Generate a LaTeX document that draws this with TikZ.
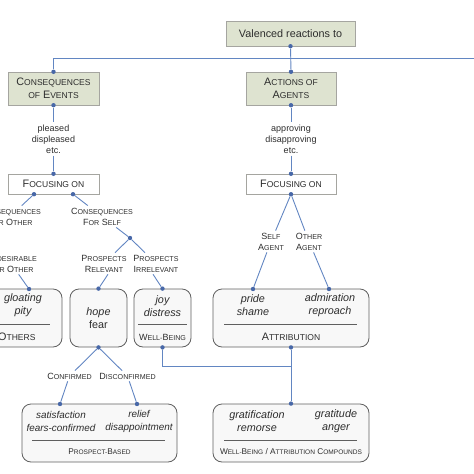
\documentclass[tikz,border=0pt]{standalone}
\usepackage{fontspec}
\setmainfont{Liberation Sans}
\usetikzlibrary{positioning}
\definecolor{headfill}{RGB}{222,227,208}
\definecolor{headline}{RGB}{165,165,160}
\definecolor{linkblue}{RGB}{98,134,194}
\definecolor{dotblue}{RGB}{72,104,168}
\definecolor{boxline}{RGB}{95,95,95}
\definecolor{boxfill}{RGB}{248,248,248}
\definecolor{inkgray}{RGB}{45,45,45}

% fake small caps: first letter full size, rest smaller
\newlength\fscdim
\makeatletter
\newcommand{\fsc}[2]{#1{\fscdim=\f@size pt\fscdim=0.79\fscdim\fontsize{\fscdim}{\fscdim}\selectfont #2}}
\makeatother

\tikzset{
  headbox/.style={draw=headline, fill=headfill, text=inkgray, minimum width=91pt, minimum height=33pt, align=center, inner sep=2pt, font=\fontsize{10.8}{12.5}\selectfont},
  focusbox/.style={draw=headline, fill=white, text=inkgray, minimum width=91pt, minimum height=20pt, inner sep=2pt, font=\fontsize{10.8}{12.5}\selectfont},
  groupbox/.style={draw=boxline, fill=boxfill, rounded corners=9pt, line width=0.8pt, minimum height=58pt, inner sep=0pt},
  emo/.style={text=inkgray, align=center, inner sep=0pt, font=\fontsize{10.8}{13}\selectfont\itshape},
  cat/.style={text=inkgray, inner sep=0pt, font=\fontsize{10.8}{12}\selectfont},
  lbl/.style={text=inkgray, align=center, inner sep=2pt, font=\fontsize{9}{11}\selectfont},
  link/.style={draw=linkblue, line width=0.9pt},
  sep/.style={draw=boxline, line width=0.8pt},
  dot/.style={circle, fill=dotblue, inner sep=0pt, minimum size=4.4pt}
}

\begin{document}
\begin{tikzpicture}[x=1pt, y=-1pt]
  \useasboundingbox (0,0) rectangle (474,474);
  \clip (0,0) rectangle (474,474);

  % Top level
  \node[headbox, minimum width=129pt, minimum height=25pt] (valenced) at (290.5,33.5) {Valenced reactions to};
  \node[headbox] (events) at (53.5,88.5) {\fsc{C}{ONSEQUENCES}\\\fsc{}{OF} \fsc{E}{VENTS}};
  \node[headbox, minimum width=90pt] (agents) at (291,88.5) {\fsc{A}{CTIONS OF}\\\fsc{A}{GENTS}};
  \coordinate (branchend) at (480,58);

  % Focusing boxes
  \node[focusbox] (focusL) at (53.5,184) {\fsc{F}{OCUSING ON}};
  \node[focusbox, minimum width=90pt] (focusR) at (291,184) {\fsc{F}{OCUSING ON}};
  \node[lbl] (pleased) at (53.5,139) {pleased\\displeased\\etc.};
  \node[lbl] (approving) at (291,139) {approving\\disapproving\\etc.};

  % Branch labels
  \node[lbl] (forother) at (10,216.5) {\fsc{C}{ONSEQUENCES}\\\fsc{F}{OR} \fsc{O}{THER}};
  \node[lbl] (forself) at (102,216.5) {\fsc{C}{ONSEQUENCES}\\\fsc{F}{OR} \fsc{S}{ELF}};
  \node[lbl] (undesirable) at (11,263.5) {\fsc{U}{NDESIRABLE}\\\fsc{F}{OR} \fsc{O}{THER}};
  \node[lbl] (relevant) at (104,263.5) {\fsc{P}{ROSPECTS}\\\fsc{R}{ELEVANT}};
  \node[lbl] (irrelevant) at (156,263.5) {\fsc{P}{ROSPECTS}\\\fsc{I}{RRELEVANT}};
  \node[lbl] (selfagent) at (271,241.5) {\fsc{S}{ELF}\\\fsc{A}{GENT}};
  \node[lbl] (otheragent) at (309,241.5) {\fsc{O}{THER}\\\fsc{A}{GENT}};

  % Emotion groups
  \node[groupbox, minimum width=156pt] (others) at (-16,318) {};
  \node[emo] (gloating) at (23,305) {gloating\\pity};
  \draw[sep] (-83,324) -- (50,324);
  \node[cat] (otherscat) at (-16,337) {\fsc{F}{ORTUNES-OF-}\fsc{O}{THERS}};

  \node[groupbox, minimum width=57pt] (prospect) at (98.5,318) {};
  \node[emo] (hope) at (98.5,318) {hope\\\upshape fear};

  \node[groupbox, minimum width=57pt] (wellbeing) at (162.5,318) {};
  \node[emo] (joy) at (162.5,306) {joy\\distress};
  \draw[sep] (138,324) -- (187,324);
  \node[cat, font=\fontsize{9}{11}\selectfont] (wellcat) at (162.5,337) {\fsc{W}{ELL-}\fsc{B}{EING}};

  \node[groupbox, minimum width=156pt] (attribution) at (291,318) {};
  \node[emo] (pride) at (253,305) {pride\\shame};
  \node[emo] (admiration) at (330,305) {admiration\\reproach};
  \draw[sep] (224,324) -- (357,324);
  \node[cat] (attrcat) at (291,337) {\fsc{A}{TTRIBUTION}};

  \node[groupbox, minimum width=155pt] (based) at (99.5,433) {};
  \node[emo, font=\fontsize{9.9}{13}\selectfont\itshape] (satisfaction) at (61,421.5) {satisfaction\\fears-confirmed};
  \node[emo, font=\fontsize{9.9}{13}\selectfont\itshape] (relief) at (139,421.5) {relief\\disappointment};
  \draw[sep] (32,440) -- (165,440);
  \node[cat, font=\fontsize{8.3}{10}\selectfont] (basedcat) at (99.5,452) {\fsc{P}{ROSPECT-}\fsc{B}{ASED}};

  \node[groupbox, minimum width=156pt] (compounds) at (291,433) {};
  \node[emo] (gratification) at (257,421.5) {gratification\\remorse};
  \node[emo] (gratitude) at (336,421.5) {gratitude\\anger};
  \draw[sep] (224,440) -- (357,440);
  \node[cat, font=\fontsize{8.3}{10}\selectfont] (compcat) at (291,452) {\fsc{W}{ELL-}\fsc{B}{EING} / \fsc{A}{TTRIBUTION} \fsc{C}{OMPOUNDS}};

  \node[lbl] (confirmed) at (69.5,376) {\fsc{C}{ONFIRMED}};
  \node[lbl] (disconfirmed) at (127.5,376) {\fsc{D}{ISCONFIRMED}};

  % Dots
  \node[dot] (dValS) at (valenced.south) {};
  \node[dot] (dEvN) at (events.north) {};
  \node[dot] (dEvS) at (events.south) {};
  \node[dot] (dAgN) at (agents.north) {};
  \node[dot] (dAgS) at (agents.south) {};
  \node[dot] (dFLN) at (focusL.north) {};
  \node[dot] (dFRN) at (focusR.north) {};
  \node[dot] (dFL1) at ([xshift=-19.5pt]focusL.south) {};
  \node[dot] (dFL2) at ([xshift=19.5pt]focusL.south) {};
  \node[dot] (dFRS) at (focusR.south) {};
  \node[dot] (dSelf) at (130,238) {};
  \node[dot] (dOth) at (29,289) {};
  \node[dot] (dProN) at (prospect.north) {};
  \node[dot] (dProS) at (prospect.south) {};
  \node[dot] (dWbN) at (wellbeing.north) {};
  \node[dot] (dWbS) at (wellbeing.south) {};
  \node[dot] (dPride) at (253,289) {};
  \node[dot] (dAdm) at (329,289) {};
  \node[dot] (dAttS) at (attribution.south) {};
  \node[dot] (dSat) at (60,404) {};
  \node[dot] (dRel) at (137,404) {};
  \node[dot] (dCompN) at (compounds.north) {};
  \coordinate (join) at (291,366);

  % Connectors
  \draw[link] (dEvN) |- (branchend);
  \draw[link] (dValS) -- (dAgN);
  \draw[link] (dEvS) -- (pleased) -- (dFLN);
  \draw[link] (dAgS) -- (approving) -- (dFRN);
  \draw[link] (dFL1) -- (forother);
  \draw[link] (dFL2) -- (forself);
  \draw[link] (forself) -- (dSelf);
  \draw[link] (dSelf) -- (relevant);
  \draw[link] (dSelf) -- (irrelevant);
  \draw[link] ([xshift=4pt]relevant.south) -- (dProN);
  \draw[link] ([xshift=-3pt]irrelevant.south) -- (dWbN);
  \draw[link] (undesirable) -- (dOth);
  \draw[link] (dFRS) -- (selfagent) -- (dPride);
  \draw[link] (dFRS) -- (otheragent) -- (dAdm);
  \draw[link] (dProS) -- (confirmed) -- (dSat);
  \draw[link] (dProS) -- (disconfirmed) -- (dRel);
  \draw[link] (dWbS) |- (join);
  \draw[link] (dAttS) -- (dCompN);
\end{tikzpicture}
\end{document}
